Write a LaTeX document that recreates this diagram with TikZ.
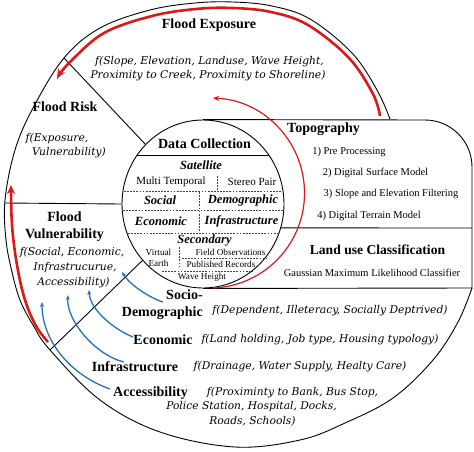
\documentclass[tikz,border=0pt]{standalone}
\usepackage{fontspec}
\setmainfont{Liberation Serif}
\newfontfamily\cambit{DejaVu Serif}
\usetikzlibrary{arrows.meta,shapes.geometric}
\definecolor{redA}{RGB}{222,24,24}
\definecolor{blueA}{RGB}{38,110,190}
\begin{document}
\begin{tikzpicture}[x=1pt,y=-1pt,
  line/.style={draw=black,line width=0.9pt},
  dsh/.style={draw=black!75,line width=0.55pt,dash pattern=on 1.8pt off 1.3pt},
  redbig/.style={draw=redA,line width=2.6pt,-{Stealth[length=9pt,width=8pt]}},
  redthin/.style={draw=redA,line width=1.2pt,-{Stealth[length=6pt,width=5pt]}},
  bluearr/.style={draw=blueA,line width=1.3pt,-{Stealth[length=5pt,width=4pt]}},
  ttl/.style={font=\bfseries\fontsize{14}{17}\selectfont,inner sep=0pt},
  bi/.style={font=\bfseries\itshape\fontsize{12.5}{14}\selectfont,inner sep=0pt},
  sm/.style={font=\fontsize{11}{13}\selectfont,inner sep=0pt},
  xs/.style={font=\fontsize{9.2}{11}\selectfont,inner sep=0pt},
  tp/.style={font=\fontsize{10.5}{12}\selectfont,inner sep=0pt},
  fx/.style={font=\cambit\itshape\fontsize{10.7}{14}\selectfont,inner sep=0pt}]
\useasboundingbox (0,0) rectangle (474,451);

% outer boundary
\draw[line] plot[smooth,tension=0.6] coordinates {(390,119) (377,90) (352,53) (310,19) (272,6) (233,2) (195,3) (150,10) (100,28) (64,58) (33,108) (15,150) (5,200) (6,240) (12,272) (20,300) (33,325) (50,350) (100,400) (160,432) (235,447) (300,440) (345,423) (393,398) (433,360) (458,322) (472,288)};

% data collection circle
\node[draw,line width=0.9pt,ellipse,minimum width=162pt,minimum height=168pt,inner sep=0pt] (dc) at (203,204) {};

% dividers
\coordinate (o1) at (64,58);
\coordinate (o2) at (5,203);
\coordinate (o3) at (50,350);
\draw[line] (o1) -- (dc.134.5);
\draw[line] (o2) -- (dc.west);
\draw[line] (o3) -- (dc.223.5);

% topography / land use box
\draw[line] (dc.north) -- (425,120) arc[start angle=-90,end angle=0,radius=47] -- (472,288) -- (dc.south);
\draw[line] (dc.-17.4) -- (472,228);

% data collection inner lines
\draw[line] (137.2,155) -- (268.8,155);
\draw[dsh] (124,191) -- (282,191);
\draw[dsh] (123,210) -- (283,210);
\draw[dsh] (128,233) -- (278,233);
\draw[dsh] (217,176) -- (217,190);
\draw[dsh] (199,192) -- (199,232);
\draw[dsh] (179,247) -- (179,268);
\draw[dsh] (182,258) -- (267,258);
\draw[dsh] (162,271) -- (252,271);

% red arrows
\draw[redbig] plot[smooth,tension=0.6] coordinates {(380,116) (373,94) (349,58) (308,25) (271,12) (233,8) (196,9) (152,16) (104,33) (70,62) (57,78)};
\draw[redbig] plot[smooth,tension=0.6] coordinates {(48,342) (36,326) (25,300) (17,265) (12,225) (11,185)};
\coordinate (rs) at (213,288);
\draw[redthin] (rs) arc[start angle=87.9,end angle=-87.9,radius=95];

% titles
\node[ttl] (fe) at (209,25) {Flood Exposure};
\node[ttl] (fr) at (65,107) {Flood Risk};
\node[ttl,align=center] (fv) at (64.5,226.5) {Flood\\Vulnerability};
\node[ttl] (dct) at (204.5,144) {Data Collection};
\node[ttl] (topo) at (323.5,129) {Topography};
\node[ttl,font=\bfseries\fontsize{13.6}{16}\selectfont] (lu) at (377.5,250) {Land use Classification};
\node[ttl,align=right,anchor=east] (socio) at (203,305) {Socio-\\Demographic};
\node[ttl] (econ) at (163,340) {Economic};
\node[ttl] (infra) at (135,367) {Infrastructure};
\node[ttl] (acc) at (150.5,393) {Accessibility};

% functions
\node[fx] (fx1a) at (209.5,62) {f(Slope, Elevation, Landuse, Wave Height,};
\node[fx] (fx1b) at (208,76) {Proximity to Creek, Proximity to Shoreline)};
\node[fx] (frx1) at (57,139) {f(Exposure,};
\node[fx] (frx2) at (69,153) {Vulnerability)};
\node[fx] (fvx1) at (72,253) {f(Social, Economic,};
\node[fx] (fvx2) at (75,268) {Infrastrucurue,};
\node[fx] (fvx3) at (73.5,283) {Accessibility)};
\node[fx] (socx) at (330,311) {f(Dependent, Illeteracy, Socially Deptrived)};
\node[fx] (ecx) at (320,340) {f(Land holding, Job type, Housing typology)};
\node[fx] (inx) at (300,367) {f(Drainage, Water Supply, Healty Care)};
\node[fx] (acx1) at (292.5,393) {f(Proximinty to Bank, Bus Stop,};
\node[fx] (acx2) at (251.5,407) {Police Station, Hospital, Docks,};
\node[fx] (acx3) at (252.5,421) {Roads, Schools)};

% data collection contents
\node[bi] (sat) at (201,165) {Satellite};
\node[sm] (mt) at (171,182) {Multi Temporal};
\node[sm] (sp) at (252,182) {Stereo Pair};
\node[bi] (soc) at (160,200) {Social};
\node[bi] (dem) at (243,200) {Demographic};
\node[bi] (eco) at (161,221) {Economic};
\node[bi] (inf) at (241.5,221) {Infrastructure};
\node[bi] (sec) at (204.5,241) {Secondary};
\node[xs,align=center] (ve) at (158.5,257.5) {Virtual\\Earth};
\node[xs] (fo) at (230.5,252) {Field Observations};
\node[xs] (pr) at (221,264) {Published Records};
\node[xs] (wh) at (202,277) {Wave Height};

% topography contents
\node[tp] (t1) at (349,152) {1) Pre Processing};
\node[tp] (t2) at (375.5,173) {2) Digital Surface Model};
\node[tp] (t3) at (391,194) {3) Slope and Elevation Filtering};
\node[tp] (t4) at (369,216) {4) Digital Terrain Model};
\node[tp] (gm) at (372,273) {Gaussian Maximum Likelihood Classifier};

% blue arrows
\coordinate (b1s) at (163,302); \coordinate (b1e) at (122,272);
\coordinate (b2s) at (133,337); \coordinate (b2e) at (89,290);
\coordinate (b3s) at (124,362); \coordinate (b3e) at (68,295);
\coordinate (b4s) at (110,389); \coordinate (b4e) at (42,302);
\draw[bluearr] (b1s) .. controls (150,298) and (130,285) .. (b1e);
\draw[bluearr] (b2s) .. controls (115,330) and (90,310) .. (b2e);
\draw[bluearr] (b3s) .. controls (95,355) and (66,320) .. (b3e);
\draw[bluearr] (b4s) .. controls (70,375) and (42,340) .. (b4e);
\end{tikzpicture}
\end{document}
